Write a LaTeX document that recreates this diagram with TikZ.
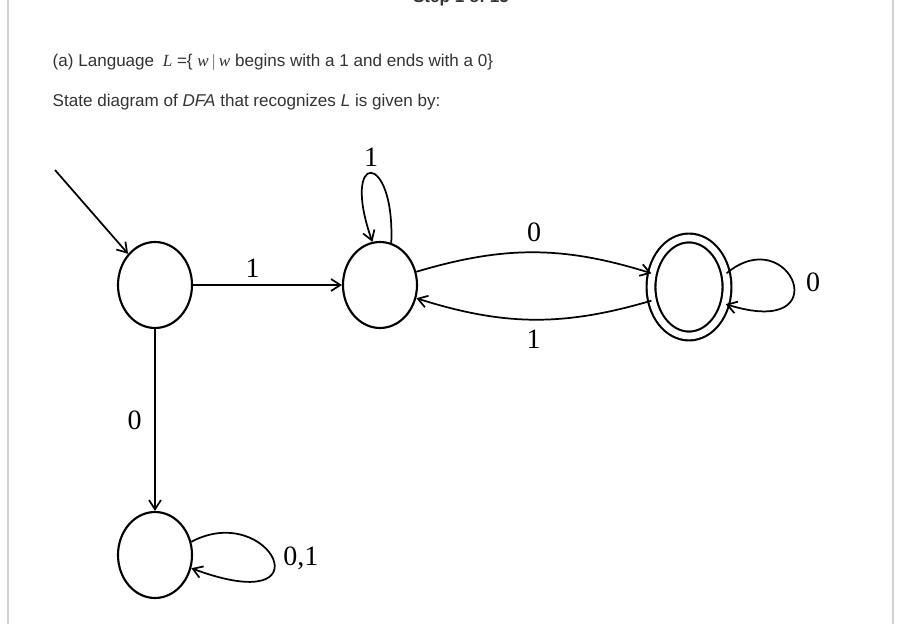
\documentclass[tikz,border=0pt]{standalone}
\usepackage{fontspec}
\setmainfont{Liberation Serif}
\newfontfamily\sansf{Liberation Sans}
\newfontfamily\serf{Liberation Serif}
\usetikzlibrary{arrows.meta,shapes.geometric}
\begin{document}
\begin{tikzpicture}[x=0.75pt,y=-0.75pt,
  st/.style={draw,line width=1.6pt,ellipse,minimum width=74*0.75pt,minimum height=86*0.75pt,inner sep=0pt},
  ed/.style={line width=1.3pt,-{Straight Barb[length=7pt,width=9pt,line width=1.3pt]}},
  lb/.style={font=\fontsize{21}{21}\selectfont,text=black},
  tx/.style={font=\sansf\fontsize{12.8}{14}\selectfont,text=black!80,anchor=west}]
\useasboundingbox (0,0) rectangle (922,624);
\draw[black!18,line width=1.5pt] (8,-5) -- (8,624) (893,-5) -- (893,624);
\node[font=\sansf\bfseries\fontsize{12.8}{14}\selectfont,text=black!80] (step) at (461,-2) {Step 1 of 15};
\node[tx] (t1) at (48,62) {(a) Language\enspace{\serf\itshape L} =\{ {\serf\itshape w\,$|$\,w} begins with a 1 and ends with a 0\}};
\node[tx] (t2) at (48,102) {State diagram of \textit{DFA} that recognizes \textit{L} is given by:};
\node[st] (A) at (155,285) {};
\node[st] (B) at (380,285) {};
\node[st,minimum width=76*0.75pt,minimum height=98*0.75pt,double,double distance=5pt] (C) at (689,287) {};
\node[st] (D) at (155,555) {};
\coordinate (init) at (55,170);
\draw[ed] (init) -- (A.north west);
\draw[ed] (A) -- node[lb,above=2pt,pos=0.4]{1} (B);
\draw[ed] (A) -- node[lb,left=6pt]{0} (D);
\draw[ed] (B.75) .. controls (395,150) and (340,150) .. node[lb,above=1pt]{1} (B.100);
\draw[ed] (B.20) to[bend left=17] node[lb,above=4pt]{0} (C.160);
\draw[ed] (C.200) to[bend left=17] node[lb,below=4pt]{1} (B.-20);
\draw[ed] (C.20) .. controls (790,220) and (840,340) .. node[lb,right=6pt,pos=0.5]{0} (C.-25);
\draw[ed] (D.20) .. controls (270,500) and (330,620) .. node[lb,right=4pt,pos=0.5]{0,1} (D.-20);
\end{tikzpicture}
\end{document}
